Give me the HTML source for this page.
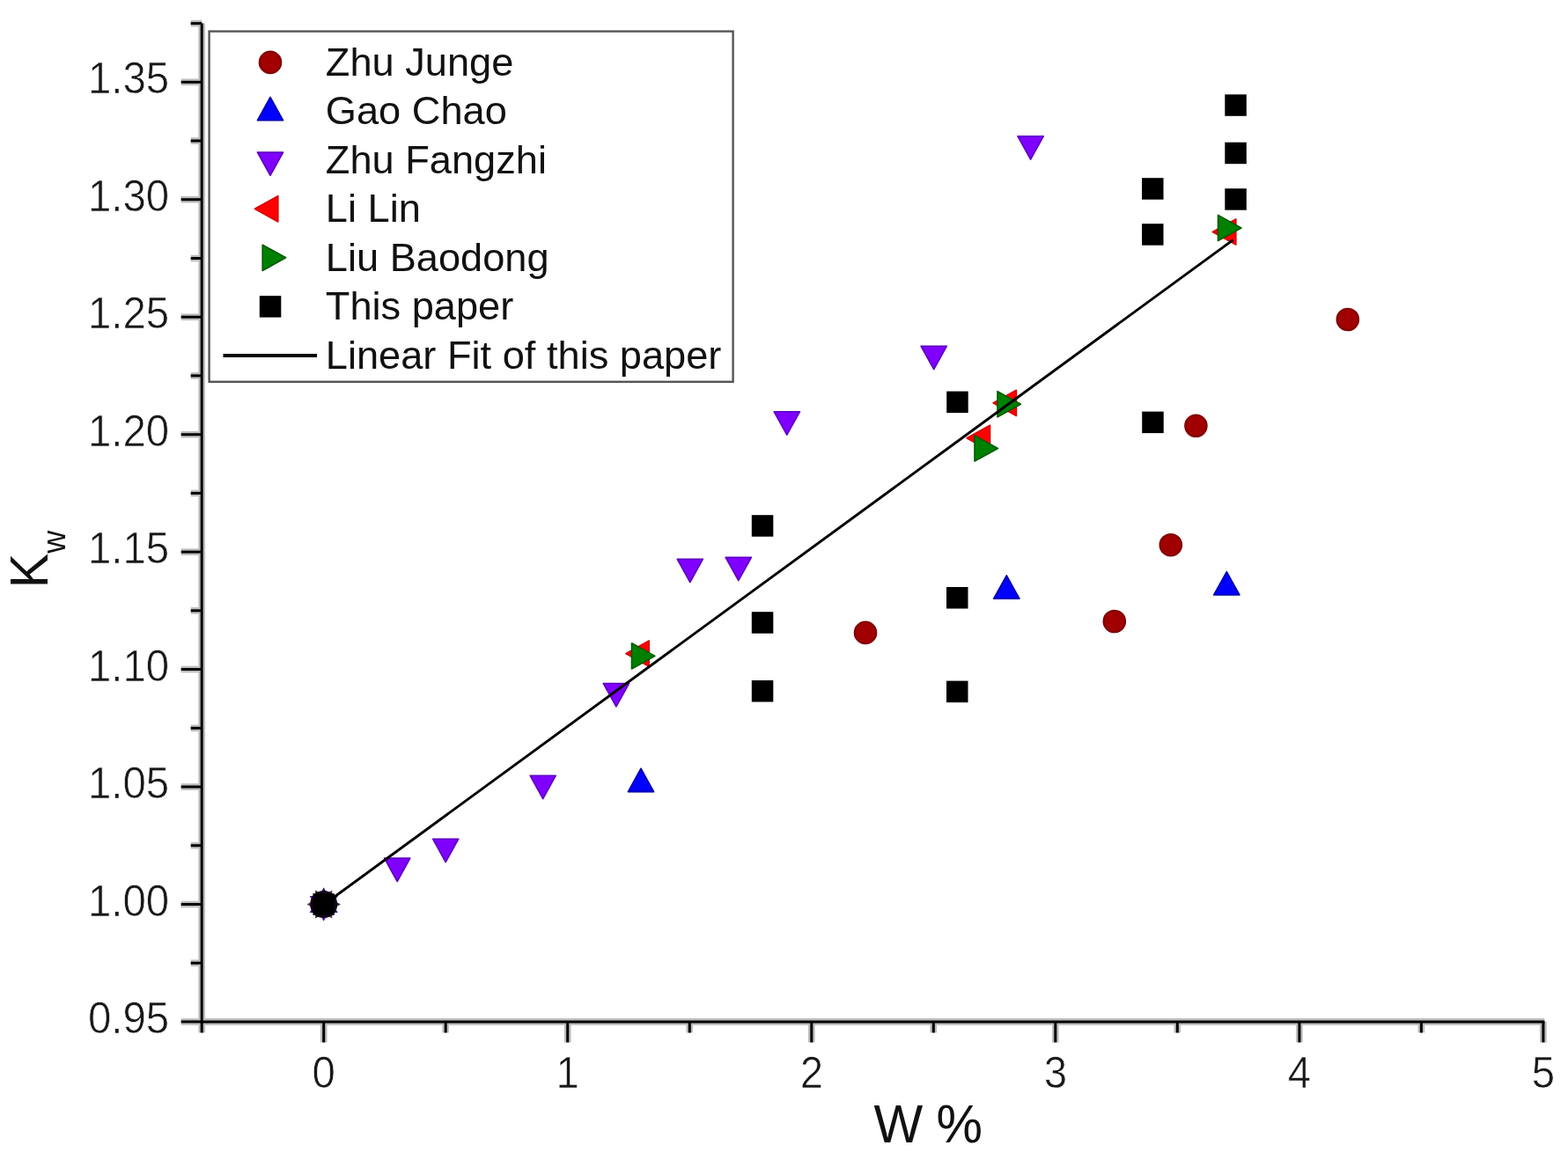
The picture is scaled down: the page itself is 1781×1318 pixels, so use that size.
<!DOCTYPE html><html><head><meta charset="utf-8"><title>Kw vs W%</title><style>
html,body{margin:0;padding:0;background:#fff;}body{width:1781px;height:1318px;overflow:hidden;}
svg{display:block;filter:blur(0.45px);}text{font-family:"Liberation Sans",Arial,sans-serif;fill:#111;}.halo line{stroke:#bdbdbd;stroke-width:7.6px;}.tk text{stroke:#fff;stroke-width:0.6px;fill:#181818;}
</style></head><body>
<svg width="1781" height="1318" viewBox="0 0 1781 1318">
<rect width="1781" height="1318" fill="#fff"/>
<g><circle cx="367.7" cy="1027.5" r="12.3" fill="#300010" stroke="#300010" stroke-width="2"/><polygon points="367.7,1008.2 383.7,1037 351.7,1037" fill="#2a1a8a"/><polygon points="367.7,1046.7 383.7,1017.9 351.7,1017.9" fill="#4a1a9a"/><polygon points="348.5,1027.5 377.3,1011.5 377.3,1043.5" fill="#5a3a5a"/><polygon points="386.9,1027.5 358.1,1011.5 358.1,1043.5" fill="#1a3a3a"/><circle cx="367.7" cy="1027.5" r="15.5" fill="#140818"/><circle cx="983" cy="718.9" r="12.3" fill="#a00000" stroke="#800000" stroke-width="2"/><circle cx="1265.8" cy="706" r="12.3" fill="#a00000" stroke="#800000" stroke-width="2"/><circle cx="1329.8" cy="619.2" r="12.3" fill="#a00000" stroke="#800000" stroke-width="2"/><circle cx="1358.4" cy="483.8" r="12.3" fill="#a00000" stroke="#800000" stroke-width="2"/><circle cx="1530.8" cy="363" r="12.3" fill="#a00000" stroke="#800000" stroke-width="2"/><polygon points="728,873.2 742.6,899.6 713.4,899.6" fill="#0000ff" stroke="#0000a8" stroke-width="1.6" stroke-linejoin="round"/><polygon points="1143.3,653.8 1157.9,680.2 1128.7,680.2" fill="#0000ff" stroke="#0000a8" stroke-width="1.6" stroke-linejoin="round"/><polygon points="1393.3,649.6 1407.9,676 1378.7,676" fill="#0000ff" stroke="#0000a8" stroke-width="1.6" stroke-linejoin="round"/><polygon points="451.2,1001.5 465.8,975.1 436.6,975.1" fill="#8000ff" stroke="#5c00c0" stroke-width="1.6" stroke-linejoin="round"/><polygon points="506.2,979.6 520.8,953.2 491.6,953.2" fill="#8000ff" stroke="#5c00c0" stroke-width="1.6" stroke-linejoin="round"/><polygon points="616.7,907.6 631.3,881.2 602.1,881.2" fill="#8000ff" stroke="#5c00c0" stroke-width="1.6" stroke-linejoin="round"/><polygon points="699.9,802.9 714.5,776.5 685.3,776.5" fill="#8000ff" stroke="#5c00c0" stroke-width="1.6" stroke-linejoin="round"/><polygon points="783.8,661.6 798.4,635.2 769.2,635.2" fill="#8000ff" stroke="#5c00c0" stroke-width="1.6" stroke-linejoin="round"/><polygon points="838.8,659.7 853.4,633.3 824.2,633.3" fill="#8000ff" stroke="#5c00c0" stroke-width="1.6" stroke-linejoin="round"/><polygon points="893.8,494.2 908.4,467.8 879.2,467.8" fill="#8000ff" stroke="#5c00c0" stroke-width="1.6" stroke-linejoin="round"/><polygon points="1060.7,419.7 1075.3,393.3 1046.1,393.3" fill="#8000ff" stroke="#5c00c0" stroke-width="1.6" stroke-linejoin="round"/><polygon points="1170.6,181.2 1185.2,154.8 1156,154.8" fill="#8000ff" stroke="#5c00c0" stroke-width="1.6" stroke-linejoin="round"/><polygon points="710.8,742.6 737.2,728 737.2,757.2" fill="#ff0000" stroke="#d80000" stroke-width="1.6" stroke-linejoin="round"/><polygon points="1098.1,497.8 1124.5,483.2 1124.5,512.4" fill="#ff0000" stroke="#d80000" stroke-width="1.6" stroke-linejoin="round"/><polygon points="1128,457.9 1154.4,443.3 1154.4,472.5" fill="#ff0000" stroke="#d80000" stroke-width="1.6" stroke-linejoin="round"/><polygon points="1377.4,263.5 1403.8,248.9 1403.8,278.1" fill="#ff0000" stroke="#d80000" stroke-width="1.6" stroke-linejoin="round"/><polygon points="743.9,745.4 717.5,730.8 717.5,760" fill="#008000" stroke="#005a00" stroke-width="1.6" stroke-linejoin="round"/><polygon points="1133.4,509.5 1107,494.9 1107,524.1" fill="#008000" stroke="#005a00" stroke-width="1.6" stroke-linejoin="round"/><polygon points="1159.4,459.3 1133,444.7 1133,473.9" fill="#008000" stroke="#005a00" stroke-width="1.6" stroke-linejoin="round"/><polygon points="1409.9,259 1383.5,244.4 1383.5,273.6" fill="#008000" stroke="#005a00" stroke-width="1.6" stroke-linejoin="round"/><rect x="355.4" y="1015.2" width="24.5" height="24.5" fill="#000"/><rect x="853.8" y="585.2" width="24.5" height="24.5" fill="#000"/><rect x="853.8" y="695.2" width="24.5" height="24.5" fill="#000"/><rect x="853.8" y="773" width="24.5" height="24.5" fill="#000"/><rect x="1075.2" y="444.6" width="24.5" height="24.5" fill="#000"/><rect x="1075" y="667" width="24.5" height="24.5" fill="#000"/><rect x="1075" y="773.6" width="24.5" height="24.5" fill="#000"/><rect x="1297" y="202.2" width="24.5" height="24.5" fill="#000"/><rect x="1297" y="254.2" width="24.5" height="24.5" fill="#000"/><rect x="1297.2" y="467.6" width="24.5" height="24.5" fill="#000"/><rect x="1391.3" y="107.3" width="24.5" height="24.5" fill="#000"/><rect x="1391.3" y="161.7" width="24.5" height="24.5" fill="#000"/><rect x="1391.3" y="214.2" width="24.5" height="24.5" fill="#000"/></g>
<line x1="367.7" y1="1027.9" x2="1400.5" y2="272.6" stroke="#000" stroke-width="3.0"/>
<g class="halo"><line x1="229.2" y1="26.6" x2="229.2" y2="1162.4" stroke="#000" stroke-width="3.0"/><line x1="227.7" y1="1160.9" x2="1754.4" y2="1160.9" stroke="#000" stroke-width="3.0"/><line x1="205.7" y1="1160.9" x2="229.2" y2="1160.9" stroke="#000" stroke-width="3.0"/><line x1="216.7" y1="1094.2" x2="229.2" y2="1094.2" stroke="#000" stroke-width="3.0"/><line x1="205.7" y1="1027.5" x2="229.2" y2="1027.5" stroke="#000" stroke-width="3.0"/><line x1="216.7" y1="960.7" x2="229.2" y2="960.7" stroke="#000" stroke-width="3.0"/><line x1="205.7" y1="894" x2="229.2" y2="894" stroke="#000" stroke-width="3.0"/><line x1="216.7" y1="827.3" x2="229.2" y2="827.3" stroke="#000" stroke-width="3.0"/><line x1="205.7" y1="760.5" x2="229.2" y2="760.5" stroke="#000" stroke-width="3.0"/><line x1="216.7" y1="693.8" x2="229.2" y2="693.8" stroke="#000" stroke-width="3.0"/><line x1="205.7" y1="627.1" x2="229.2" y2="627.1" stroke="#000" stroke-width="3.0"/><line x1="216.7" y1="560.4" x2="229.2" y2="560.4" stroke="#000" stroke-width="3.0"/><line x1="205.7" y1="493.7" x2="229.2" y2="493.7" stroke="#000" stroke-width="3.0"/><line x1="216.7" y1="426.9" x2="229.2" y2="426.9" stroke="#000" stroke-width="3.0"/><line x1="205.7" y1="360.2" x2="229.2" y2="360.2" stroke="#000" stroke-width="3.0"/><line x1="216.7" y1="293.5" x2="229.2" y2="293.5" stroke="#000" stroke-width="3.0"/><line x1="205.7" y1="226.7" x2="229.2" y2="226.7" stroke="#000" stroke-width="3.0"/><line x1="216.7" y1="160" x2="229.2" y2="160" stroke="#000" stroke-width="3.0"/><line x1="205.7" y1="93.3" x2="229.2" y2="93.3" stroke="#000" stroke-width="3.0"/><line x1="216.7" y1="26.6" x2="229.2" y2="26.6" stroke="#000" stroke-width="3.0"/><line x1="229.2" y1="1160.9" x2="229.2" y2="1173.4" stroke="#000" stroke-width="3.0"/><line x1="367.7" y1="1160.9" x2="367.7" y2="1184.4" stroke="#000" stroke-width="3.0"/><line x1="506.2" y1="1160.9" x2="506.2" y2="1173.4" stroke="#000" stroke-width="3.0"/><line x1="644.7" y1="1160.9" x2="644.7" y2="1184.4" stroke="#000" stroke-width="3.0"/><line x1="783.3" y1="1160.9" x2="783.3" y2="1173.4" stroke="#000" stroke-width="3.0"/><line x1="921.8" y1="1160.9" x2="921.8" y2="1184.4" stroke="#000" stroke-width="3.0"/><line x1="1060.3" y1="1160.9" x2="1060.3" y2="1173.4" stroke="#000" stroke-width="3.0"/><line x1="1198.8" y1="1160.9" x2="1198.8" y2="1184.4" stroke="#000" stroke-width="3.0"/><line x1="1337.3" y1="1160.9" x2="1337.3" y2="1173.4" stroke="#000" stroke-width="3.0"/><line x1="1475.9" y1="1160.9" x2="1475.9" y2="1184.4" stroke="#000" stroke-width="3.0"/><line x1="1614.4" y1="1160.9" x2="1614.4" y2="1173.4" stroke="#000" stroke-width="3.0"/><line x1="1752.9" y1="1160.9" x2="1752.9" y2="1184.4" stroke="#000" stroke-width="3.0"/></g>
<g><line x1="229.2" y1="26.6" x2="229.2" y2="1162.4" stroke="#000" stroke-width="3.0"/><line x1="227.7" y1="1160.9" x2="1754.4" y2="1160.9" stroke="#000" stroke-width="3.0"/><line x1="205.7" y1="1160.9" x2="229.2" y2="1160.9" stroke="#000" stroke-width="3.0"/><line x1="216.7" y1="1094.2" x2="229.2" y2="1094.2" stroke="#000" stroke-width="3.0"/><line x1="205.7" y1="1027.5" x2="229.2" y2="1027.5" stroke="#000" stroke-width="3.0"/><line x1="216.7" y1="960.7" x2="229.2" y2="960.7" stroke="#000" stroke-width="3.0"/><line x1="205.7" y1="894" x2="229.2" y2="894" stroke="#000" stroke-width="3.0"/><line x1="216.7" y1="827.3" x2="229.2" y2="827.3" stroke="#000" stroke-width="3.0"/><line x1="205.7" y1="760.5" x2="229.2" y2="760.5" stroke="#000" stroke-width="3.0"/><line x1="216.7" y1="693.8" x2="229.2" y2="693.8" stroke="#000" stroke-width="3.0"/><line x1="205.7" y1="627.1" x2="229.2" y2="627.1" stroke="#000" stroke-width="3.0"/><line x1="216.7" y1="560.4" x2="229.2" y2="560.4" stroke="#000" stroke-width="3.0"/><line x1="205.7" y1="493.7" x2="229.2" y2="493.7" stroke="#000" stroke-width="3.0"/><line x1="216.7" y1="426.9" x2="229.2" y2="426.9" stroke="#000" stroke-width="3.0"/><line x1="205.7" y1="360.2" x2="229.2" y2="360.2" stroke="#000" stroke-width="3.0"/><line x1="216.7" y1="293.5" x2="229.2" y2="293.5" stroke="#000" stroke-width="3.0"/><line x1="205.7" y1="226.7" x2="229.2" y2="226.7" stroke="#000" stroke-width="3.0"/><line x1="216.7" y1="160" x2="229.2" y2="160" stroke="#000" stroke-width="3.0"/><line x1="205.7" y1="93.3" x2="229.2" y2="93.3" stroke="#000" stroke-width="3.0"/><line x1="216.7" y1="26.6" x2="229.2" y2="26.6" stroke="#000" stroke-width="3.0"/><line x1="229.2" y1="1160.9" x2="229.2" y2="1173.4" stroke="#000" stroke-width="3.0"/><line x1="367.7" y1="1160.9" x2="367.7" y2="1184.4" stroke="#000" stroke-width="3.0"/><line x1="506.2" y1="1160.9" x2="506.2" y2="1173.4" stroke="#000" stroke-width="3.0"/><line x1="644.7" y1="1160.9" x2="644.7" y2="1184.4" stroke="#000" stroke-width="3.0"/><line x1="783.3" y1="1160.9" x2="783.3" y2="1173.4" stroke="#000" stroke-width="3.0"/><line x1="921.8" y1="1160.9" x2="921.8" y2="1184.4" stroke="#000" stroke-width="3.0"/><line x1="1060.3" y1="1160.9" x2="1060.3" y2="1173.4" stroke="#000" stroke-width="3.0"/><line x1="1198.8" y1="1160.9" x2="1198.8" y2="1184.4" stroke="#000" stroke-width="3.0"/><line x1="1337.3" y1="1160.9" x2="1337.3" y2="1173.4" stroke="#000" stroke-width="3.0"/><line x1="1475.9" y1="1160.9" x2="1475.9" y2="1184.4" stroke="#000" stroke-width="3.0"/><line x1="1614.4" y1="1160.9" x2="1614.4" y2="1173.4" stroke="#000" stroke-width="3.0"/><line x1="1752.9" y1="1160.9" x2="1752.9" y2="1184.4" stroke="#000" stroke-width="3.0"/></g>
<g class="tk"><text transform="translate(192.2,1173.9) scale(1,1.04)" font-size="47.4" text-anchor="end">0.95</text><text transform="translate(192.2,1040.5) scale(1,1.04)" font-size="47.4" text-anchor="end">1.00</text><text transform="translate(192.2,907) scale(1,1.04)" font-size="47.4" text-anchor="end">1.05</text><text transform="translate(192.2,773.5) scale(1,1.04)" font-size="47.4" text-anchor="end">1.10</text><text transform="translate(192.2,640.1) scale(1,1.04)" font-size="47.4" text-anchor="end">1.15</text><text transform="translate(192.2,506.7) scale(1,1.04)" font-size="47.4" text-anchor="end">1.20</text><text transform="translate(192.2,373.2) scale(1,1.04)" font-size="47.4" text-anchor="end">1.25</text><text transform="translate(192.2,239.7) scale(1,1.04)" font-size="47.4" text-anchor="end">1.30</text><text transform="translate(192.2,106.3) scale(1,1.04)" font-size="47.4" text-anchor="end">1.35</text><text transform="translate(367.7,1236.3) scale(1,1.04)" font-size="47.4" text-anchor="middle">0</text><text transform="translate(644.7,1236.3) scale(1,1.04)" font-size="47.4" text-anchor="middle">1</text><text transform="translate(921.8,1236.3) scale(1,1.04)" font-size="47.4" text-anchor="middle">2</text><text transform="translate(1198.8,1236.3) scale(1,1.04)" font-size="47.4" text-anchor="middle">3</text><text transform="translate(1475.9,1236.3) scale(1,1.04)" font-size="47.4" text-anchor="middle">4</text><text transform="translate(1752.9,1236.3) scale(1,1.04)" font-size="47.4" text-anchor="middle">5</text></g>
<text transform="translate(0,1298) scale(1,1.05)" font-size="59"><tspan x="992.6">W </tspan><tspan x="1063.6">%</tspan></text>
<text transform="translate(53.6,668.2) rotate(-90) scale(1,1.05)" font-size="59">K<tspan font-size="36" dy="19.5">w</tspan></text>
<g class="lg"><rect x="237.6" y="35.6" width="595" height="398.2" fill="#fff" stroke="#555" stroke-width="2.4"/><circle cx="307" cy="70.9" r="12.3" fill="#a00000" stroke="#800000" stroke-width="2"/><text x="369.8" y="85.8" font-size="45.2">Zhu Junge</text><polygon points="307,110.4 321.6,136.8 292.4,136.8" fill="#0000ff" stroke="#0000a8" stroke-width="1.6" stroke-linejoin="round"/><text x="369.8" y="141.3" font-size="45.2">Gao Chao</text><polygon points="307,199.4 321.6,173.1 292.4,173.1" fill="#8000ff" stroke="#5c00c0" stroke-width="1.6" stroke-linejoin="round"/><text x="369.8" y="196.8" font-size="45.2">Zhu Fangzhi</text><polygon points="289.4,237.3 315.8,222.7 315.8,252" fill="#ff0000" stroke="#d80000" stroke-width="1.6" stroke-linejoin="round"/><text x="369.8" y="252.2" font-size="45.2">Li Lin</text><polygon points="324.6,292.8 298.2,278.2 298.2,307.5" fill="#008000" stroke="#005a00" stroke-width="1.6" stroke-linejoin="round"/><text x="369.8" y="307.7" font-size="45.2">Liu Baodong</text><rect x="294.8" y="336.1" width="24.5" height="24.5" fill="#000"/><text x="369.8" y="363.2" font-size="45.2">This paper</text><line x1="253.5" y1="404" x2="360" y2="404" stroke="#000" stroke-width="4.2"/><text x="369.8" y="418.7" font-size="45.2">Linear Fit of this paper</text></g>
</svg></body></html>
